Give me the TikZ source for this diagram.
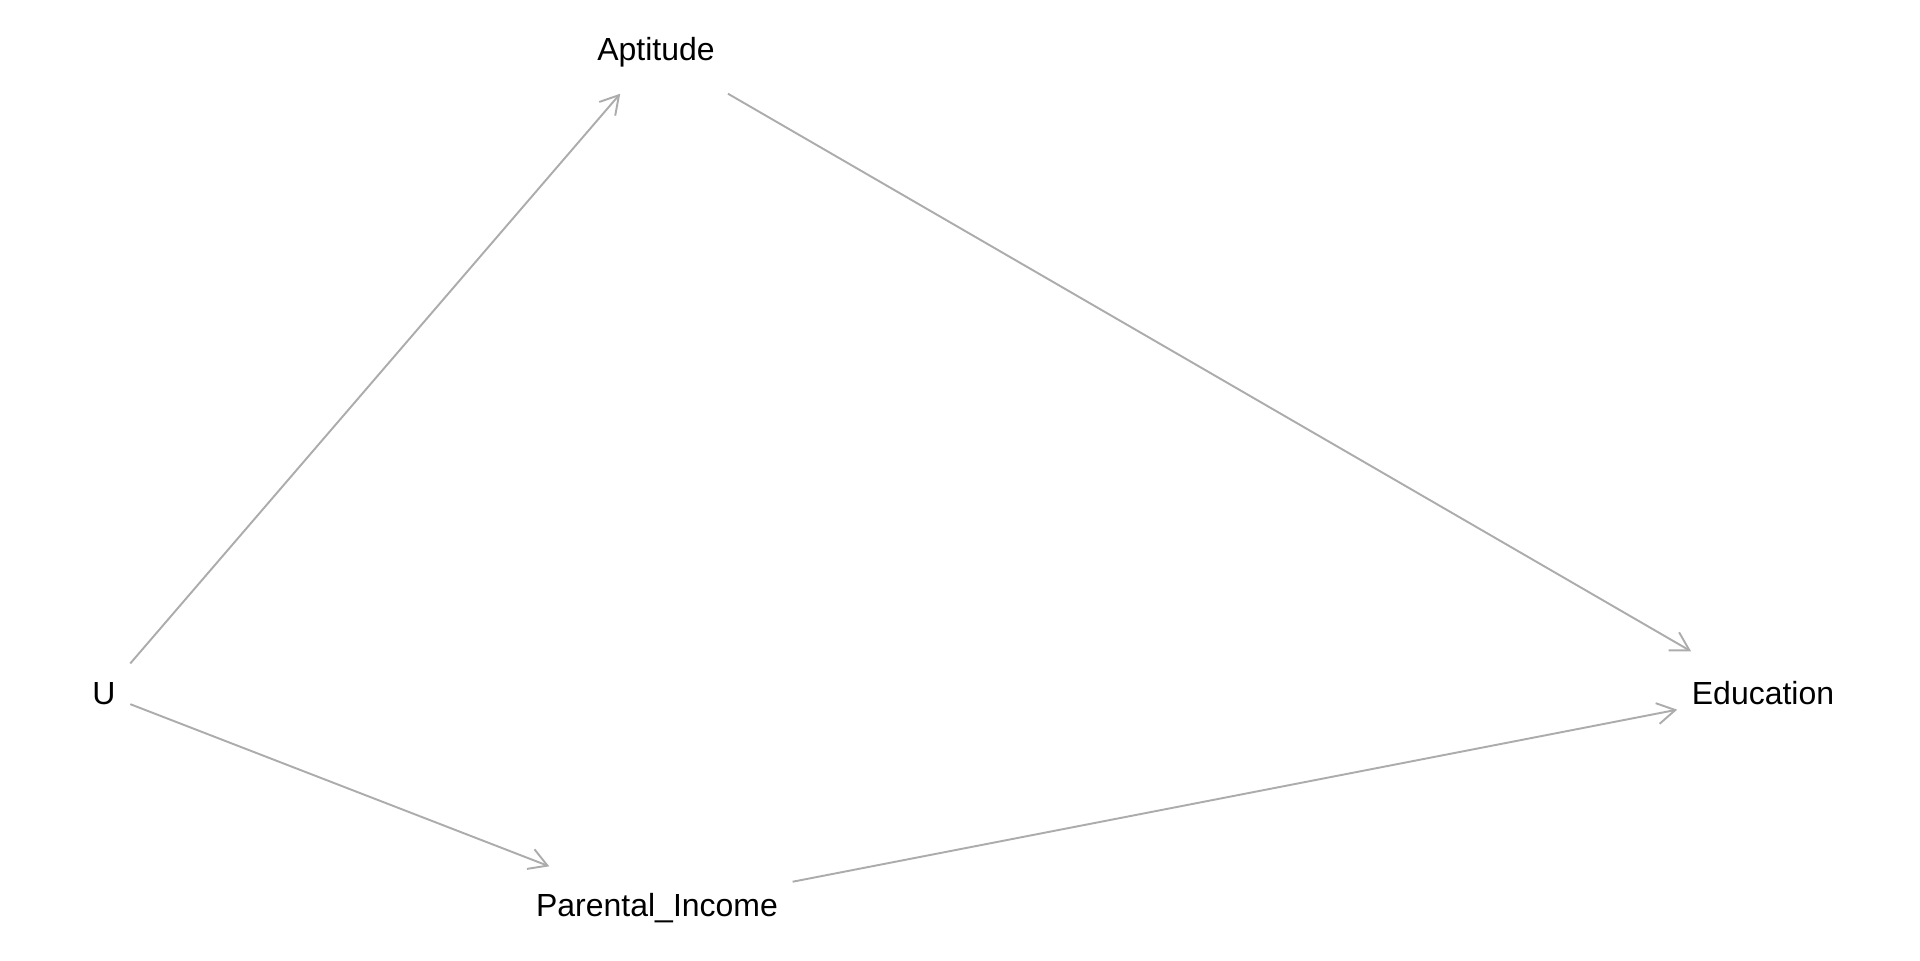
\documentclass[tikz,border=0pt]{standalone}
\usepackage{fontspec}
\setmainfont{Liberation Sans}
\usetikzlibrary{arrows.meta,shapes}
\definecolor{edgegray}{RGB}{172,172,172}
\tikzstyle{vertex}=[rectangle,inner xsep=0.14cm,minimum height=0.82cm,font=\fontsize{9.1pt}{11pt}\selectfont]
\tikzstyle{edge} = [draw,line width=0.55pt,edgegray,-{Straight Barb[length=1.8mm,width=2.1mm]}]

\begin{document}
\begin{tikzpicture}[scale=1, auto,swap]

    \useasboundingbox (0,0) rectangle (19.2,9.6);

     \foreach \x/\y/\name/\label in {1.04/2.66/U/U, 6.56/9.08/apt/Aptitude, 6.57/0.52/inc/Parental\_Income, 17.63/2.67/edu/Education}
        \node[vertex] (\name) at (\x, \y) {\label};

    \foreach \source/ \dest in {U/apt, apt/edu, U/inc, inc/edu}
        \path[edge] (\source) -- (\dest);

   \end{tikzpicture}
\end{document}
